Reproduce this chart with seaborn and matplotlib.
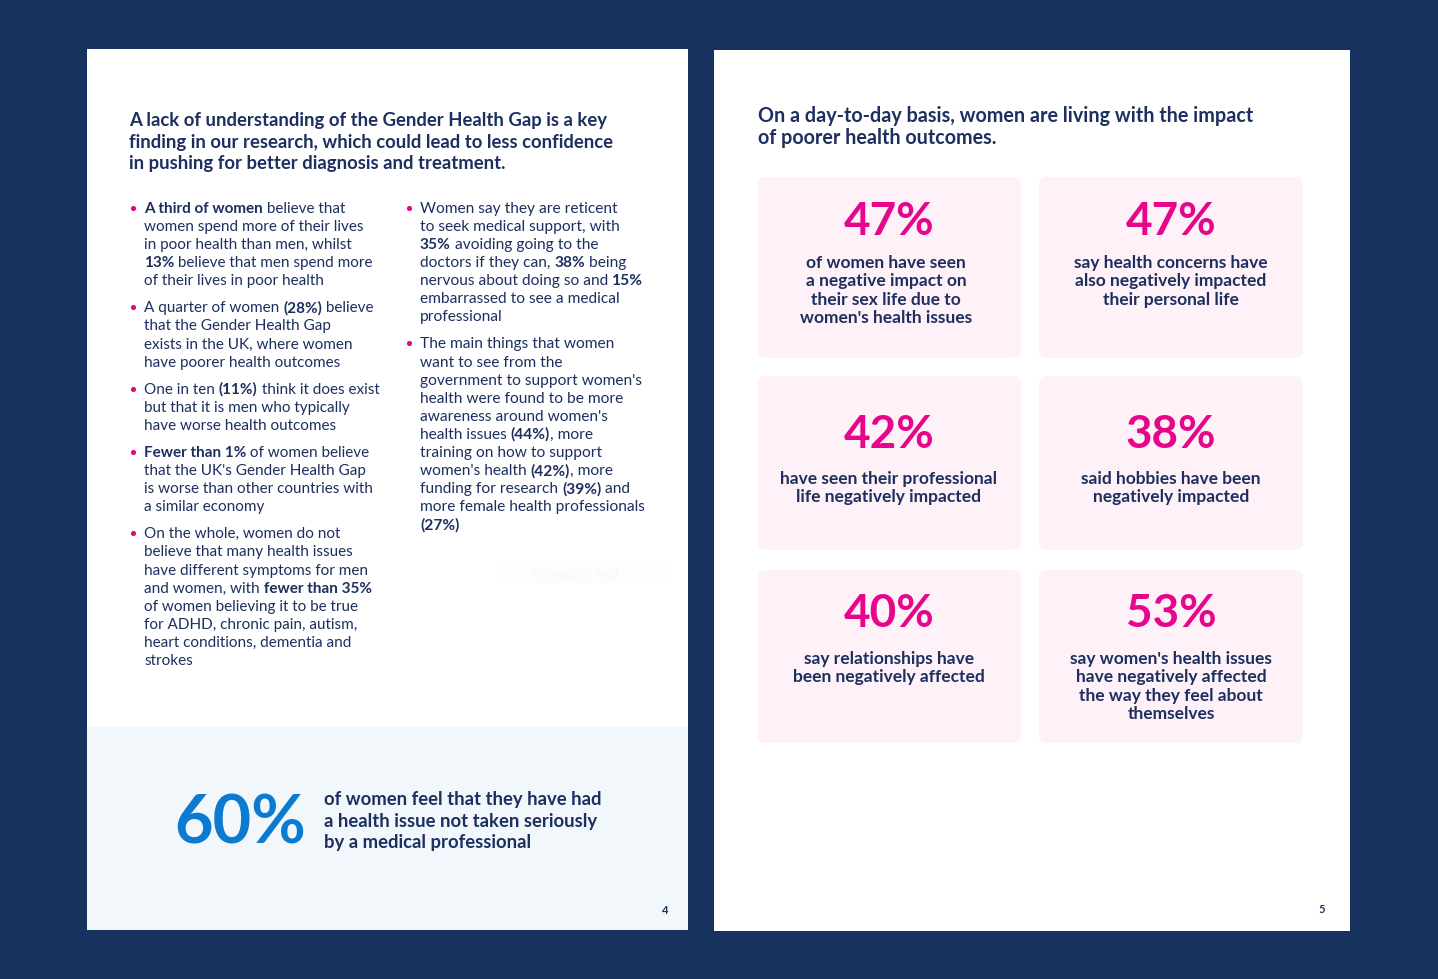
import matplotlib
matplotlib.use('Agg')
import matplotlib.pyplot as plt
from matplotlib.patches import FancyBboxPatch, Rectangle
import pandas as pd
import seaborn as sns

# page copy
left_heading = ['A lack of understanding of the Gender Health Gap is a key',
                'finding in our research, which could lead to less confidence',
                'in pushing for better diagnosis and treatment.']
right_heading = ['On a day-to-day basis, women are living with the impact',
                 'of poorer health outcomes.']

# ** marks the bold runs
bullets_col1 = [
    ['**A third of women** believe that', 'women spend more of their lives',
     'in poor health than men, whilst', '**13%** believe that men spend more',
     'of their lives in poor health'],
    ['A quarter of women **(28%)** believe', 'that the Gender Health Gap',
     'exists in the UK, where women', 'have poorer health outcomes'],
    ['One in ten **(11%)** think it does exist', 'but that it is men who typically',
     'have worse health outcomes'],
    ['**Fewer than 1%** of women believe', "that the UK's Gender Health Gap",
     'is worse than other countries with', 'a similar economy'],
    ['On the whole, women do not', 'believe that many health issues',
     'have different symptoms for men', 'and women, with **fewer than 35%**',
     'of women believing it to be true', 'for ADHD, chronic pain, autism,',
     'heart conditions, dementia and', 'strokes'],
]
bullets_col2 = [
    ['Women say they are reticent', 'to seek medical support, with',
     '**35%** avoiding going to the', 'doctors if they can, **38%** being',
     'nervous about doing so and **15%**', 'embarrassed to see a medical',
     'professional'],
    ['The main things that women', 'want to see from the',
     "government to support women's", 'health were found to be more',
     "awareness around women's", 'health issues **(44%)**, more',
     'training on how to support', "women's health **(42%)**, more",
     'funding for research **(39%)** and', 'more female health professionals',
     '**(27%)**'],
]

# stat cards
card_values = [47, 47, 42, 38, 40, 53]
card_texts = [
    ['of women have seen', 'a negative impact on', 'their sex life due to', "women's health issues"],
    ['say health concerns have', 'also negatively impacted', 'their personal life'],
    ['have seen their professional', 'life negatively impacted'],
    ['said hobbies have been', 'negatively impacted'],
    ['say relationships have', 'been negatively affected'],
    ["say women's health issues", 'have negatively affected', 'the way they feel about', 'themselves'],
]
callout_value = 60
callout_text = ['of women feel that they have had', 'a health issue not taken seriously',
                'by a medical professional']

# layout, in picture pixels
NAVY = '#17325f'
INK = '#1c2f5f'
PINK = '#e5068c'
BLUE = '#0a7bd0'
CARD = '#fef1f8'
BAND = '#f2f7fc'
FONT = 'Lato'
BODY_STEP = 18.1

card_x = [(758, 1021), (1039, 1303)]
card_y = [(177, 358), (376, 550), (570, 743)]
card_num_y = [235, 448, 627]
card_num_x = [889, 1171]
card_text_x = [(886, 1171), (889, 1171), (889, 1171)]
card_text_y = [268, 484, 664]

sns.set_theme(style='white')
plt.rcParams['font.family'] = [FONT, 'DejaVu Sans']

fig = plt.figure(figsize=(14.38, 9.791), dpi=100, facecolor=NAVY)
ax = fig.add_axes([0, 0, 1, 1])
ax.set_facecolor(NAVY)
renderer = fig.canvas.get_renderer()

# pages
ax.add_patch(Rectangle((87, 49), 601, 881, fc='white', ec='none', zorder=1))
ax.add_patch(Rectangle((87, 727), 601, 203, fc=BAND, ec='none', zorder=2))
ax.add_patch(Rectangle((714, 50), 636, 881, fc='white', ec='none', zorder=1))


def text_width(s, **kw):
    # the trailing dot keeps spaces at the end of s in the measure
    a = ax.text(0, 0, s + '.', **kw)
    b = ax.text(0, 0, '.', **kw)
    w = a.get_window_extent(renderer).width - b.get_window_extent(renderer).width
    a.remove()
    b.remove()
    return w


def rich_line(x, y, line, size):
    parts = line.split('**')
    for i, part in enumerate(parts):
        if not part:
            continue
        kw = dict(fontsize=size, fontweight='bold' if i % 2 else 'normal')
        ax.text(x, y, part, color=INK, va='baseline', ha='left', zorder=5, **kw)
        x += text_width(part, **kw)


def draw_column(groups, x, y, size):
    dots = []
    for group in groups:
        dots.append((x - 11, y - 5))
        for line in group:
            rich_line(x, y, line, size)
            y += BODY_STEP
        y += 9
    return dots


ax.set_xlim(0, 1438)
ax.set_ylim(979, 0)

for i, line in enumerate(left_heading):
    ax.text(129, 126 + i * 21.7, line, fontsize=13.3, fontweight='bold', color=INK, zorder=5)
for i, line in enumerate(right_heading):
    ax.text(758, 122 + i * 21.7, line, fontsize=14.2, fontweight='bold', color=INK, zorder=5)

dots = draw_column(bullets_col1, 144, 212.7, 10.95) + draw_column(bullets_col2, 420, 212.7, 11.15)
dot_df = pd.DataFrame(dots, columns=['x', 'y'])
sns.scatterplot(data=dot_df, x='x', y='y', ax=ax, color=PINK, s=14, linewidth=0, zorder=5, legend=False)
ax.set_xlim(0, 1438)
ax.set_ylim(979, 0)
ax.axis('off')

# cards
for i, (value, lines) in enumerate(zip(card_values, card_texts)):
    row, col = i // 2, i % 2
    x0, x1 = card_x[col]
    y0, y1 = card_y[row]
    ax.add_patch(FancyBboxPatch((x0 + 8, y0 + 8), x1 - x0 - 16, y1 - y0 - 16,
                                boxstyle='round,pad=8,rounding_size=8', fc=CARD, ec='none', zorder=2))
    ax.text(card_num_x[col], card_num_y[row], f'{value}%', fontsize=33, fontweight='bold',
            color=PINK, ha='center', va='baseline', zorder=5)
    for j, line in enumerate(lines):
        ax.text(card_text_x[row][col], card_text_y[row] + j * 18.3, line, fontsize=12.5,
                fontweight='bold', color=INK, ha='center', va='baseline', zorder=5)

# callout
ax.text(174, 843, f'{callout_value}%', fontsize=48, color=BLUE, fontweight='bold', va='baseline', zorder=5)
for i, line in enumerate(callout_text):
    ax.text(324, 805 + i * 21.5, line, fontsize=13.3, fontweight='bold', color=INK, zorder=5)

# page numbers
ax.text(665, 914, '4', fontsize=8, fontweight='bold', color=INK, ha='center', zorder=5)
ax.text(1322, 913, '5', fontsize=8, fontweight='bold', color=INK, ha='center', zorder=5)

# faint leftover label on the left page
ax.add_patch(Rectangle((498, 560), 172, 24, fc='#fdfdfe', ec='none', zorder=2))
ax.text(574, 577, 'Rectangular Snip', fontsize=9, color='#f5f6fa', ha='center', family='Liberation Serif', zorder=3)

fig.savefig('out.png', dpi=100, facecolor=NAVY)
